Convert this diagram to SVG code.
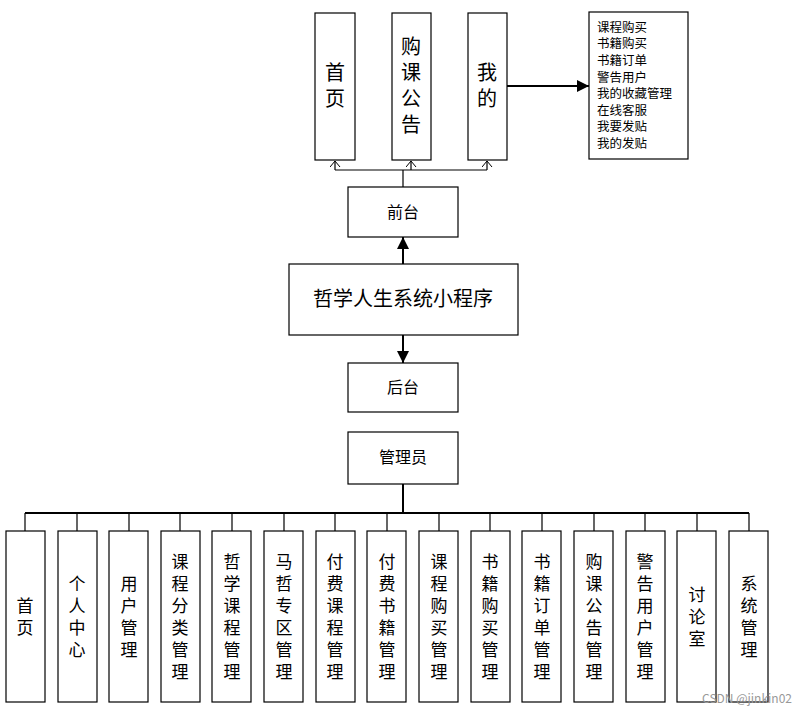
<svg xmlns="http://www.w3.org/2000/svg" width="808" height="716" viewBox="0 0 808 716">
<style>
.b{fill:#fff;stroke:#000;stroke-width:1.2}
text{font-family:"Noto Sans CJK SC","Liberation Sans",sans-serif;fill:#000;text-anchor:middle}
.t{font-size:20px}.m{font-size:16px}.s{font-size:12.5px;text-anchor:start}.v{font-size:17px}
.c{fill:none;stroke:#000;stroke-width:1.2}.k{fill:none;stroke:#000;stroke-width:2}
</style>
<defs>
<marker id="o" markerWidth="10" markerHeight="12" refX="6" refY="5" orient="auto" markerUnits="userSpaceOnUse"><path d="M0,0 L6,5 L0,10" fill="none" stroke="#000"/></marker>
<marker id="f" markerWidth="14" markerHeight="14" refX="12" refY="6" orient="auto" markerUnits="userSpaceOnUse"><path d="M0,0 L12,6 L0,12Z" fill="#000"/></marker>
</defs>
<rect width="808" height="716" fill="#fff"/>
<g id="connectors">
<path class="c" d="M403,187 V170 M335,170 H487"/>
<line x1="335" y1="170" x2="335" y2="161" class="c" marker-end="url(#o)"/>
<line x1="411" y1="170" x2="411" y2="161" class="c" marker-end="url(#o)"/>
<line x1="487" y1="170" x2="487" y2="161" class="c" marker-end="url(#o)"/>
<line x1="507" y1="86" x2="589" y2="86" class="k" marker-end="url(#f)"/>
<line x1="403" y1="264" x2="403" y2="237" class="k" marker-end="url(#f)"/>
<line x1="403" y1="335" x2="403" y2="363" class="k" marker-end="url(#f)"/>
<path class="k" d="M403,484 V513 M25,513 H749"/>
<path class="c" d="M25,513 V531 M77,513 V531 M129,513 V531 M180,513 V531 M232,513 V531 M284,513 V531 M335,513 V531 M387,513 V531 M439,513 V531 M490,513 V531 M542,513 V531 M594,513 V531 M645,513 V531 M697,513 V531 M749,513 V531"/>
</g>
<g id="n-home"><rect class="b" x="315" y="13" width="40" height="147"/><text class="t" x="335" y="80">首</text><text class="t" x="335" y="106">页</text></g>
<g id="n-notice"><rect class="b" x="392" y="13" width="39" height="147"/><text class="t" x="411" y="54">购</text><text class="t" x="411" y="80">课</text><text class="t" x="411" y="106">公</text><text class="t" x="411" y="132">告</text></g>
<g id="n-mine"><rect class="b" x="468" y="13" width="39" height="147"/><text class="t" x="487" y="80">我</text><text class="t" x="487" y="106">的</text></g>
<g id="n-list"><rect class="b" x="589" y="12" width="99" height="147"/>
<text class="s" x="597" y="32">课程购买</text><text class="s" x="597" y="48">书籍购买</text><text class="s" x="597" y="65">书籍订单</text><text class="s" x="597" y="82">警告用户</text><text class="s" x="597" y="98">我的收藏管理</text><text class="s" x="597" y="115">在线客服</text><text class="s" x="597" y="131">我要发贴</text><text class="s" x="597" y="148">我的发贴</text></g>
<g id="n-front"><rect class="b" x="348" y="187" width="110" height="50"/><text class="m" x="403" y="218">前台</text></g>
<g id="n-main"><rect class="b" x="289" y="264" width="229" height="71"/><text class="t" x="403" y="306">哲学人生系统小程序</text></g>
<g id="n-back"><rect class="b" x="348" y="363" width="110" height="49"/><text class="m" x="403" y="393">后台</text></g>
<g id="n-admin"><rect class="b" x="348" y="432" width="110" height="52"/><text class="m" x="403" y="463">管理员</text></g>
<g id="bottom">
<g id="b1"><rect class="b" x="6" y="531" width="39" height="171"/><text class="v" x="25" y="612">首</text><text class="v" x="25" y="634">页</text></g>
<g id="b2"><rect class="b" x="58" y="531" width="39" height="171"/><text class="v" x="77" y="590">个</text><text class="v" x="77" y="612">人</text><text class="v" x="77" y="634">中</text><text class="v" x="77" y="656">心</text></g>
<g id="b3"><rect class="b" x="109" y="531" width="39" height="171"/><text class="v" x="129" y="590">用</text><text class="v" x="129" y="612">户</text><text class="v" x="129" y="634">管</text><text class="v" x="129" y="656">理</text></g>
<g id="b4"><rect class="b" x="161" y="531" width="39" height="171"/><text class="v" x="180" y="568">课</text><text class="v" x="180" y="590">程</text><text class="v" x="180" y="612">分</text><text class="v" x="180" y="634">类</text><text class="v" x="180" y="656">管</text><text class="v" x="180" y="678">理</text></g>
<g id="b5"><rect class="b" x="212" y="531" width="39" height="171"/><text class="v" x="232" y="568">哲</text><text class="v" x="232" y="590">学</text><text class="v" x="232" y="612">课</text><text class="v" x="232" y="634">程</text><text class="v" x="232" y="656">管</text><text class="v" x="232" y="678">理</text></g>
<g id="b6"><rect class="b" x="264" y="531" width="39" height="171"/><text class="v" x="284" y="568">马</text><text class="v" x="284" y="590">哲</text><text class="v" x="284" y="612">专</text><text class="v" x="284" y="634">区</text><text class="v" x="284" y="656">管</text><text class="v" x="284" y="678">理</text></g>
<g id="b7"><rect class="b" x="316" y="531" width="39" height="171"/><text class="v" x="335" y="568">付</text><text class="v" x="335" y="590">费</text><text class="v" x="335" y="612">课</text><text class="v" x="335" y="634">程</text><text class="v" x="335" y="656">管</text><text class="v" x="335" y="678">理</text></g>
<g id="b8"><rect class="b" x="367" y="531" width="39" height="171"/><text class="v" x="387" y="568">付</text><text class="v" x="387" y="590">费</text><text class="v" x="387" y="612">书</text><text class="v" x="387" y="634">籍</text><text class="v" x="387" y="656">管</text><text class="v" x="387" y="678">理</text></g>
<g id="b9"><rect class="b" x="419" y="531" width="39" height="171"/><text class="v" x="439" y="568">课</text><text class="v" x="439" y="590">程</text><text class="v" x="439" y="612">购</text><text class="v" x="439" y="634">买</text><text class="v" x="439" y="656">管</text><text class="v" x="439" y="678">理</text></g>
<g id="b10"><rect class="b" x="471" y="531" width="39" height="171"/><text class="v" x="490" y="568">书</text><text class="v" x="490" y="590">籍</text><text class="v" x="490" y="612">购</text><text class="v" x="490" y="634">买</text><text class="v" x="490" y="656">管</text><text class="v" x="490" y="678">理</text></g>
<g id="b11"><rect class="b" x="522" y="531" width="39" height="171"/><text class="v" x="542" y="568">书</text><text class="v" x="542" y="590">籍</text><text class="v" x="542" y="612">订</text><text class="v" x="542" y="634">单</text><text class="v" x="542" y="656">管</text><text class="v" x="542" y="678">理</text></g>
<g id="b12"><rect class="b" x="574" y="531" width="39" height="171"/><text class="v" x="594" y="568">购</text><text class="v" x="594" y="590">课</text><text class="v" x="594" y="612">公</text><text class="v" x="594" y="634">告</text><text class="v" x="594" y="656">管</text><text class="v" x="594" y="678">理</text></g>
<g id="b13"><rect class="b" x="626" y="531" width="39" height="171"/><text class="v" x="645" y="568">警</text><text class="v" x="645" y="590">告</text><text class="v" x="645" y="612">用</text><text class="v" x="645" y="634">户</text><text class="v" x="645" y="656">管</text><text class="v" x="645" y="678">理</text></g>
<g id="b14"><rect class="b" x="677" y="531" width="39" height="171"/><text class="v" x="697" y="601">讨</text><text class="v" x="697" y="623">论</text><text class="v" x="697" y="645">室</text></g>
<g id="b15"><rect class="b" x="729" y="531" width="39" height="171"/><text class="v" x="749" y="590">系</text><text class="v" x="749" y="612">统</text><text class="v" x="749" y="634">管</text><text class="v" x="749" y="656">理</text></g>
</g>
<text x="792" y="703" style="font-size:12px;text-anchor:end;fill:#999">CSDN @jinkin02</text>
</svg>
